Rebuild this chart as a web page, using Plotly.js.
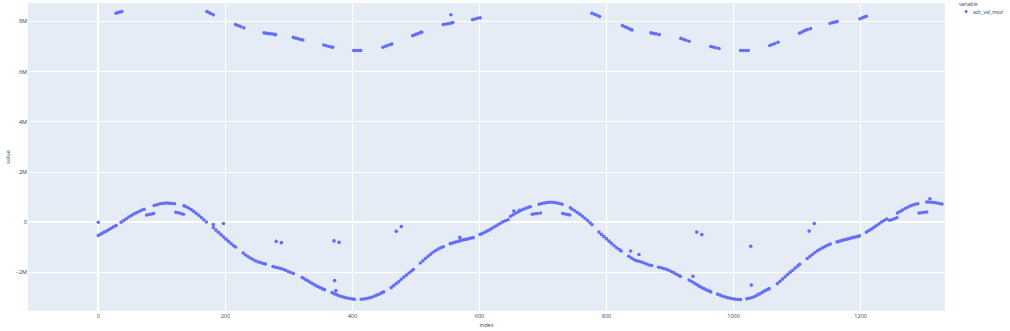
<!DOCTYPE html>
<html>
<head>
<meta charset="utf-8">
<script src="https://cdn.plot.ly/plotly-3.0.1.min.js"></script>
<style>html,body{margin:0;padding:0;background:#fff;}#chart{width:1010px;height:331px;}</style>
</head>
<body>
<div id="chart"></div>
<script>
// values in millions (M)
const lowerIndex = [
  0,4,8,12,16,20,24,28,
  36,40,44,48,52,56,60,64,68,72,
  76,80,84,87,
  88,92,96,100,104,108,112,116,120,
  122,126,130,134,
  135,138,142,146,150,154,158,162,166,170,
  181,185,189,193,197,201,205,209,213,216,
  228,232,236,240,244,248,252,256,260,263,
  275,279,283,287,291,295,299,303,307,
  321,325,329,333,337,341,345,349,353,356,
  368,372,376,380,384,388,392,396,400,403,
  414,418,422,426,430,434,438,442,446,449,
  461,465,469,473,477,481,485,489,493,496,
  507,511,515,519,523,527,531,535,539,543,
  554,558,562,566,570,574,578,582,586,590,
  601,605,609,613,617,621,625,629,633,637,641,645,
  649,653,657,661,665,669,673,677,680,
  683,687,691,696,
  694,698,702,706,710,714,718,722,726,730,
  731,735,739,742,
  743,746,750,754,758,762,766,770,774,777,
  788,792,796,800,804,808,812,816,820,823,
  835,839,843,847,851,855,859,863,867,871,
  882,886,890,894,898,902,906,910,914,916,
  930,934,938,942,946,950,954,958,962,964,
  975,979,983,987,991,995,999,1003,1007,1011,
  1021,1025,1029,1033,1037,1041,1045,1049,1053,1056,
  1069,1073,1077,1081,1085,1089,1093,1097,1101,1104,
  1116,1120,1124,1128,1132,1136,1140,1144,1148,1152,
  1163,1167,1171,1175,1179,1183,1187,1191,1195,1198,
  1209,1213,1217,1221,1225,1229,1233,1237,1241,
  1245,1249,1253,1257,
  1258,1262,1266,1270,1274,1278,1282,1286,1290,
  1292,1296,1300,1304,
  1304,1308,1312,1316,1320,1324,1328
];
const lowerValue = [
  -0.52,-0.47,-0.41,-0.36,-0.30,-0.24,-0.18,-0.13,
  0.00,0.07,0.14,0.21,0.27,0.33,0.38,0.43,0.48,0.52,
  0.29,0.31,0.33,0.35,
  0.67,0.70,0.73,0.75,0.76,0.77,0.76,0.75,0.74,
  0.40,0.38,0.35,0.32,
  0.66,0.62,0.57,0.51,0.44,0.36,0.28,0.19,0.10,0.01,
  -0.21,-0.31,-0.40,-0.49,-0.58,-0.67,-0.76,-0.85,-0.93,-0.98,
  -1.22,-1.30,-1.37,-1.43,-1.49,-1.54,-1.58,-1.61,-1.64,-1.66,
  -1.76,-1.79,-1.81,-1.84,-1.87,-1.91,-1.96,-2.00,-2.04,
  -2.20,-2.26,-2.32,-2.38,-2.44,-2.50,-2.55,-2.60,-2.65,-2.68,
  -2.80,-2.85,-2.89,-2.93,-2.96,-2.99,-3.01,-3.03,-3.05,-3.06,
  -3.06,-3.05,-3.03,-3.01,-2.98,-2.94,-2.90,-2.86,-2.81,-2.77,
  -2.60,-2.52,-2.44,-2.36,-2.27,-2.18,-2.10,-2.02,-1.94,-1.88,
  -1.62,-1.53,-1.44,-1.35,-1.27,-1.19,-1.12,-1.06,-1.01,-0.97,
  -0.85,-0.82,-0.79,-0.76,-0.73,-0.70,-0.68,-0.66,-0.63,-0.61,
  -0.48,-0.44,-0.39,-0.34,-0.28,-0.22,-0.16,-0.10,-0.04,0.02,0.06,0.10,
  0.24,0.30,0.36,0.42,0.47,0.52,0.56,0.60,0.62,
  0.32,0.34,0.35,0.37,
  0.72,0.75,0.77,0.79,0.80,0.80,0.79,0.77,0.75,0.72,
  0.35,0.33,0.31,0.29,
  0.58,0.52,0.46,0.39,0.32,0.24,0.16,0.07,-0.02,-0.09,
  -0.39,-0.48,-0.57,-0.66,-0.75,-0.84,-0.93,-1.01,-1.08,-1.14,
  -1.35,-1.42,-1.48,-1.53,-1.55,-1.58,-1.62,-1.66,-1.70,-1.72,
  -1.79,-1.81,-1.84,-1.87,-1.91,-1.96,-2.01,-2.07,-2.12,-2.15,
  -2.30,-2.36,-2.42,-2.48,-2.54,-2.60,-2.65,-2.70,-2.74,-2.77,
  -2.86,-2.90,-2.94,-2.97,-3.00,-3.02,-3.04,-3.06,-3.07,-3.07,
  -3.04,-3.02,-2.99,-2.95,-2.90,-2.85,-2.79,-2.73,-2.68,-2.64,
  -2.44,-2.35,-2.26,-2.17,-2.08,-1.99,-1.91,-1.82,-1.74,-1.67,
  -1.44,-1.36,-1.28,-1.20,-1.13,-1.07,-1.01,-0.96,-0.91,-0.87,
  -0.78,-0.75,-0.72,-0.69,-0.67,-0.64,-0.61,-0.59,-0.57,-0.54,
  -0.39,-0.33,-0.27,-0.20,-0.13,-0.06,0.01,0.07,0.13,
  0.08,0.10,0.14,0.18,
  0.37,0.43,0.49,0.55,0.60,0.65,0.69,0.72,0.74,
  0.37,0.38,0.40,0.41,
  0.81,0.81,0.80,0.79,0.77,0.75,0.73
];
const upperIndex = [
  28,31,34,37,
  171,174,177,181,
  216,220,224,229,
  261,265,269,273,277,279,
  307,311,315,319,322,
  355,359,363,367,369,
  402,406,410,413,
  448,452,456,460,462,
  495,499,503,507,509,
  543,547,551,555,558,
  589,593,597,601,
  777,781,785,789,
  825,829,833,837,840,
  870,874,878,883,
  917,921,925,930,
  964,968,972,977,
  1011,1015,1019,1023,
  1057,1061,1065,1070,
  1104,1108,1112,1116,1121,
  1152,1156,1160,1163,
  1199,1203,1206,1209
];
const upperValue = [
  8.32,8.35,8.37,8.39,
  8.39,8.35,8.31,8.26,
  7.87,7.83,7.79,7.74,
  7.54,7.52,7.51,7.50,7.48,7.47,
  7.36,7.33,7.30,7.28,7.26,
  7.06,7.03,7.00,6.98,6.97,
  6.84,6.84,6.84,6.84,
  6.97,7.01,7.05,7.08,7.10,
  7.43,7.47,7.51,7.55,7.57,
  7.87,7.89,7.91,7.93,7.95,
  8.07,8.09,8.12,8.14,
  8.32,8.28,8.24,8.19,
  7.83,7.78,7.74,7.69,7.66,
  7.54,7.52,7.50,7.47,
  7.32,7.29,7.25,7.21,
  7.00,6.98,6.95,6.92,
  6.84,6.84,6.84,6.84,
  7.04,7.08,7.12,7.17,
  7.53,7.58,7.63,7.67,7.71,
  7.92,7.95,7.97,7.99,
  8.10,8.14,8.17,8.20
];
const strayIndex = [0,181,197,280,288,371,379,372,374,469,477,555,569,654,663,838,851,936,942,950,1027,1028,1119,1127,1309];
const strayValue = [0.00,-0.09,-0.05,-0.76,-0.81,-0.74,-0.80,-2.32,-2.72,-0.36,-0.17,8.26,-0.60,0.45,0.48,-1.14,-1.28,-2.15,-0.39,-0.49,-0.95,-2.50,-0.35,-0.05,0.94];

const seriesName = 'adc_val_mod';
const legendTitle = 'variable';
const M = 1e6;
const xs = lowerIndex.concat(upperIndex, strayIndex);
const ys = lowerValue.concat(upperValue, strayValue).map(v => v * M);

const W = 1010, H = 331, ML = 28, MR = 65, MT = 3, MB = 20;
const PW = W - ML - MR, PH = H - MT - MB;
const px = x => (x - ML) / PW;          // pixel -> paper x
const py = y => (H - MB - y) / PH;      // pixel -> paper y

const fnt = {family: '"Open Sans", verdana, arial, sans-serif', size: 5.5, color: '#2a3f5f'};
const lfnt = {family: '"Open Sans", verdana, arial, sans-serif', size: 5, color: '#2a3f5f'};

Plotly.newPlot('chart', [{
  type: 'scatter', mode: 'markers', name: seriesName, showlegend: false,
  x: xs, y: ys,
  marker: {color: '#636efa', size: 3.6, line: {width: 0}}
}], {
  width: W, height: H,
  margin: {l: ML, r: MR, t: MT, b: MB, autoexpand: false},
  paper_bgcolor: '#ffffff', plot_bgcolor: '#E5ECF6',
  font: fnt, showlegend: false,
  xaxis: {range: [-110.7, 1332.8], gridcolor: '#ffffff', zerolinecolor: '#ffffff', zerolinewidth: 2,
          tickvals: [0,200,400,600,800,1000,1200], ticks: '', tickfont: fnt, automargin: false,
          title: {text: 'index', font: fnt, standoff: 4}},
  yaxis: {range: [-3.53e6, 8.73e6], gridcolor: '#ffffff', zerolinecolor: '#ffffff', zerolinewidth: 2,
          tickvals: [-2e6,0,2e6,4e6,6e6,8e6], ticktext: ['−2M','0','2M','4M','6M','8M'], ticks: '', tickfont: fnt, automargin: false,
          title: {text: 'value', font: fnt, standoff: 4}},
  annotations: [
    {xref: 'paper', yref: 'paper', x: px(958), y: py(4.2), xanchor: 'left', yanchor: 'middle', showarrow: false, text: legendTitle, font: lfnt, borderpad: 0},
    {xref: 'paper', yref: 'paper', x: px(972), y: py(11.5), xanchor: 'left', yanchor: 'middle', showarrow: false, text: seriesName, font: lfnt, borderpad: 0}
  ],
  shapes: [
    {type: 'circle', xref: 'paper', yref: 'paper', x0: px(964.6), x1: px(967.6), y0: py(13), y1: py(10),
     fillcolor: '#636efa', line: {width: 0}}
  ]
}, {displayModeBar: false, staticPlot: true});
</script>
</body>
</html>
